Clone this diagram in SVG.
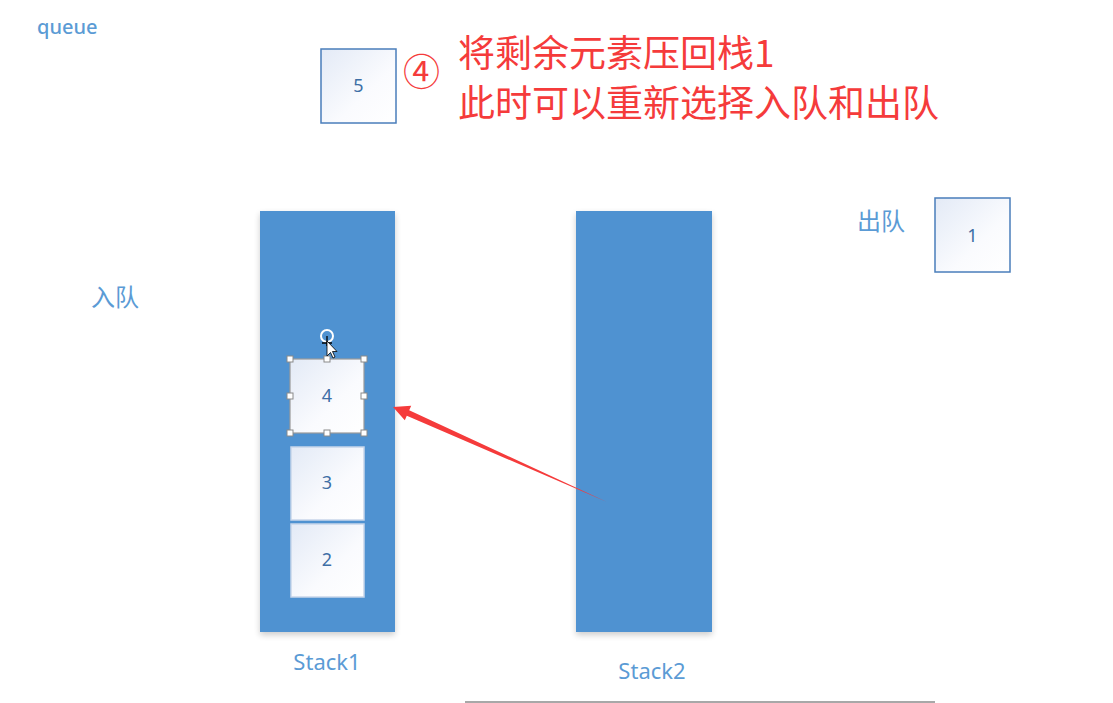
<svg xmlns="http://www.w3.org/2000/svg" width="1113" height="703" viewBox="0 0 1113 703">
<defs>
<linearGradient id="boxg" x1="0" y1="0" x2="1" y2="1">
<stop offset="0" stop-color="#E3EAF6"/>
<stop offset="0.6" stop-color="#FAFBFE"/>
<stop offset="1" stop-color="#FFFFFF"/>
</linearGradient>
<filter id="sh" x="-10%" y="-5%" width="120%" height="110%">
<feGaussianBlur in="SourceAlpha" stdDeviation="3"/>
<feOffset dy="3"/>
<feComponentTransfer><feFuncA type="linear" slope="0.2"/></feComponentTransfer>
<feMerge><feMergeNode/><feMergeNode in="SourceGraphic"/></feMerge>
</filter>
<style>
.stack{fill:#4F92D1;}
.box{fill:url(#boxg);stroke:#4A7EBB;stroke-width:1.5;}
.sel{fill:url(#boxg);stroke:#9A9A9A;stroke-width:1.2;}
.num{font-family:"Noto Sans","Open Sans",sans-serif;font-size:18px;fill:#3E6FA6;text-anchor:middle;}
.lbl{font-family:"Noto Sans","Open Sans","Noto Sans CJK SC",sans-serif;fill:#5B9BD5;}
.red{font-family:"Noto Sans CJK SC","Noto Sans",sans-serif;fill:#F53B3B;font-size:37px;}
.hd{fill:#FFFFFF;stroke:#8A8A8A;stroke-width:1;}
</style>
</defs>
<rect width="1113" height="703" fill="#FFFFFF"/>
<line x1="465" y1="702" x2="935" y2="702" stroke="#A8A8A8" stroke-width="2"/>

<text class="lbl" x="37" y="34" font-size="20" font-weight="500">queue</text>
<text class="lbl" x="91" y="306" font-size="24">入队</text>
<text class="lbl" x="857" y="230" font-size="24">出队</text>

<g id="title">
<text class="red" x="403" y="86" font-size="40">④</text>
<text class="red" x="458" y="67">将剩余元素压回栈1</text>
<text class="red" x="458" y="117">此时可以重新选择入队和出队</text>
</g>

<g id="stack1">
<rect class="stack" x="260" y="211" width="135" height="421" filter="url(#sh)"/>
<text class="lbl" x="327" y="670" font-size="22" text-anchor="middle">Stack1</text>
</g>
<g id="stack2">
<rect class="stack" x="576" y="211" width="136" height="421" filter="url(#sh)"/>
<text class="lbl" x="652" y="679" font-size="22" text-anchor="middle">Stack2</text>
</g>

<g id="node5">
<rect class="box" x="321" y="49" width="75" height="74"/>
<text class="num" x="358.5" y="92">5</text>
</g>
<g id="node1">
<rect class="box" x="935" y="198" width="75" height="74"/>
<text class="num" x="972.5" y="242">1</text>
</g>
<g id="node4">
<rect class="sel" x="290" y="359" width="74" height="74"/>
<text class="num" x="327" y="402">4</text>
<rect class="hd" x="287" y="356" width="6" height="6"/>
<rect class="hd" x="324" y="356" width="6" height="6"/>
<rect class="hd" x="361" y="356" width="6" height="6"/>
<rect class="hd" x="287" y="393" width="6" height="6"/>
<rect class="hd" x="361" y="393" width="6" height="6"/>
<rect class="hd" x="287" y="430" width="6" height="6"/>
<rect class="hd" x="324" y="430" width="6" height="6"/>
<rect class="hd" x="361" y="430" width="6" height="6"/>
<circle cx="327" cy="336" r="6" fill="none" stroke="#FFFFFF" stroke-width="2"/>
<path d="M327,336 v10 M322,343 h10" stroke="#000" stroke-width="1.3"/>
<path d="M327,341 L327,356 L330.5,352.5 L333,358 L335,357 L332.5,351.5 L337,351.5 Z" fill="#FFFFFF" stroke="#000" stroke-width="0.8"/>
</g>
<g id="node3">
<rect class="box" x="291" y="447" width="73" height="73" style="stroke:#C8D6EA"/>
<text class="num" x="327" y="489">3</text>
</g>
<g id="node2">
<rect class="box" x="291" y="524" width="73" height="73" style="stroke:#C8D6EA"/>
<text class="num" x="327" y="566">2</text>
</g>

<g id="connectors">
<polygon points="607,502 409.2,410.3 411.2,405.7 393,407 404.8,420.3 406.8,415.7" fill="#F53B3B"/>
</g>
</svg>
